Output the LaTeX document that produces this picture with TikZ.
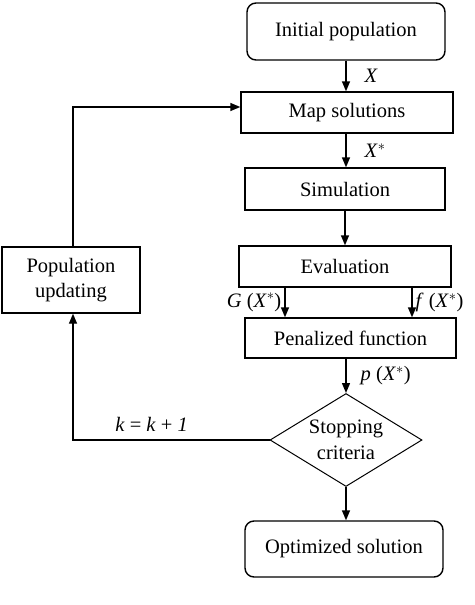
\documentclass[tikz,border=0pt]{standalone}
\usepackage{fontspec}
\setmainfont{Liberation Serif}
\usetikzlibrary{shapes.geometric,arrows.meta}
\begin{document}
\begin{tikzpicture}[x=1pt,y=-1pt,
  font=\fontsize{20.5}{23}\selectfont,
  box/.style={draw, line width=1.4pt, inner sep=0pt},
  rbox/.style={draw, line width=1.4pt, rounded corners=9pt, inner sep=0pt},
  dia/.style={draw, diamond, line width=1pt, aspect=1.6, inner sep=0pt, align=center},
  conn/.style={line width=1.4pt},
  arr/.style={conn, -{Triangle[length=10pt,width=8pt]}},
  lbl/.style={inner sep=0pt}]
\useasboundingbox (0,0) rectangle (474,605);
\node[rbox, minimum width=198pt, minimum height=57pt] (init) at (346,31.5) {Initial population};
\node[box, minimum width=212pt, minimum height=41pt] (map) at (347,112.5) {Map solutions};
\node[box, minimum width=200pt, minimum height=42pt] (sim) at (345,189) {Simulation};
\node[box, minimum width=212pt, minimum height=41pt] (eval) at (345,266.5) {Evaluation};
\node[box, minimum width=211pt, minimum height=40pt] (pen) at (350.5,338) {Penalized function};
\node[dia, minimum width=152pt, minimum height=93pt] (stop) at (346,440) {Stopping\\[3pt]criteria};
\node[rbox, minimum width=198pt, minimum height=56pt] (opt) at (344,549) {Optimized solution};
\node[box, minimum width=138pt, minimum height=66pt, align=center] (upd) at (71,280) {Population\\[2pt]updating};
% connectors
\draw[arr] (init.south -| 346,0) -- (map.north -| 346,0) node[lbl, midway, right=18pt] {\textit{X}};
\draw[arr] (map.south -| 346,0) -- (sim.north -| 346,0) node[lbl, midway, right=18pt] {\textit{X}$^{*}$};
\draw[arr] (sim) -- (eval);
\draw[arr] (eval.south -| 285,0) -- (pen.north -| 285,0) node[lbl, midway, left=3pt] {\textit{G} (\textit{X}$^{*}$)};
\draw[arr] (eval.south -| 412,0) -- (pen.north -| 412,0) node[lbl, midway, right=3pt] {\textit{f} (\textit{X}$^{*}$)};
\draw[arr] (pen.south -| 346,0) -- (stop.north) node[lbl, midway, right=14pt] {\textit{p} (\textit{X}$^{*}$)};
\draw[arr] (stop.south) -- (opt.north -| stop.south);
\coordinate (c1) at (stop.west -| 73,0);
\draw[arr] (stop.west) -- (c1) node[lbl, pos=0.6, above=8pt] {\textit{k} = \textit{k} + \textit{1}} -- (upd.south -| c1);
\coordinate (c2) at (73,107);
\draw[arr] (upd.north -| c2) -- (c2) -- (map.west |- c2);
\end{tikzpicture}
\end{document}
